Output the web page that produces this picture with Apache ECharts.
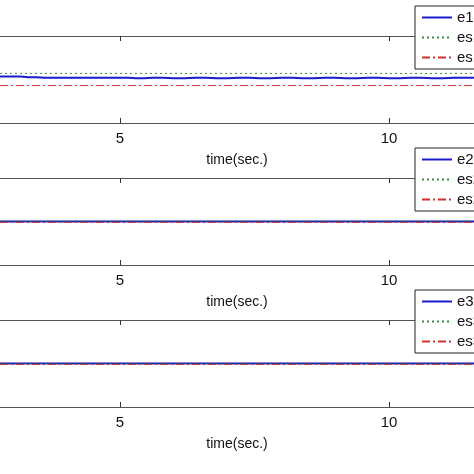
<!DOCTYPE html><html><head><meta charset="utf-8"><script src="https://cdn.jsdelivr.net/npm/echarts@6/dist/echarts.min.js"></script></head><body style="margin:0"><div id="c" style="width:474px;height:474px"></div><script>
const xTicks=[5,10];
const time=[2.77,3.0,3.3,3.6,4.0,4.5,5.0,5.3,5.6,6.0,6.4,6.8,7.2,7.6,8.0,8.4,8.8,9.2,9.6,10.0,10.4,10.8,11.2,11.58];
const e1=[0.535,0.535,0.525,0.52,0.52,0.52,0.52,0.515,0.52,0.515,0.52,0.515,0.52,0.515,0.52,0.515,0.52,0.515,0.52,0.515,0.52,0.515,0.52,0.52];
const es1u=0.57, es1l=0.43;
const e2=[0.5,0.5,0.5,0.5,0.5,0.5,0.5,0.5,0.5,0.5,0.5,0.5,0.5,0.5,0.5,0.5,0.5,0.5,0.5,0.5,0.5,0.5,0.5,0.5];
const es2u=0.505, es2l=0.49;
const e3=[0.5,0.5,0.5,0.5,0.5,0.5,0.5,0.5,0.5,0.5,0.5,0.5,0.5,0.5,0.5,0.5,0.5,0.5,0.5,0.5,0.5,0.5,0.5,0.5];
const es3u=0.505, es3l=0.49;
const names=[["e1","es1","es1"],["e2","es2","es2"],["e3","es3","es3"]];
const blues=[e1,e2,e3], ups=[es1u,es2u,es3u], lows=[es1l,es2l,es3l];
const tops=[36,178,320], h=87;
const grids=[],xAxis=[],yAxis=[],series=[],legend=[];
const c=echarts.init(document.getElementById('c'));
tops.forEach((t,i)=>{
 grids.push({left:0,right:0,top:t,height:h});
 const base={type:'value',gridIndex:i,min:2.77,max:11.58,interval:5,axisLine:{lineStyle:{color:'#555'}},axisTick:{inside:true,length:5,lineStyle:{color:'#333'},customValues:xTicks},splitLine:{show:false}};
 xAxis.push(Object.assign({},base,{position:'bottom',axisLabel:{customValues:xTicks,color:'#111',fontSize:15,fontFamily:'Arial',margin:8},name:'time(sec.)',nameLocation:'middle',nameGap:30,nameTextStyle:{color:'#111',fontSize:14,fontFamily:'Arial'}}));
 xAxis.push(Object.assign({},base,{position:'top',axisLabel:{show:false}}));
 yAxis.push({type:'value',gridIndex:i,min:0,max:1,show:false});
 const d=(v)=>time.map(x=>[x,v]);
 series.push({name:names[i][0],type:'line',color:'#1a1acc',xAxisIndex:2*i,yAxisIndex:i,data:time.map((x,k)=>[x,blues[i][k]]),step:'middle',symbol:'none',lineStyle:{color:'#1a1acc',width:2},z:3});
 series.push({name:names[i][1]+' ',type:'line',color:'#3a8a3a',xAxisIndex:2*i,yAxisIndex:i,data:d(ups[i]),symbol:'none',lineStyle:{color:'#3a8a3a',width:1,type:[2,3]}});
 series.push({name:names[i][2]+'  ',type:'line',color:'#d03030',xAxisIndex:2*i,yAxisIndex:i,data:d(lows[i]),symbol:'none',lineStyle:{color:'#d03030',width:1,type:[8,3,2,3]}});
 legend.push({data:[names[i][0],names[i][1]+' ',names[i][2]+'  '],orient:'vertical',left:415,top:t-30,itemWidth:30,itemHeight:10,itemGap:5,backgroundColor:'#fff',borderColor:'#222',borderWidth:1,padding:[4,10,4,6],itemStyle:{opacity:0},textStyle:{fontSize:15,fontFamily:'Arial',color:'#111'}});
});
c.setOption({animation:false,grid:grids,xAxis,yAxis,series,legend});
</script></body></html>
